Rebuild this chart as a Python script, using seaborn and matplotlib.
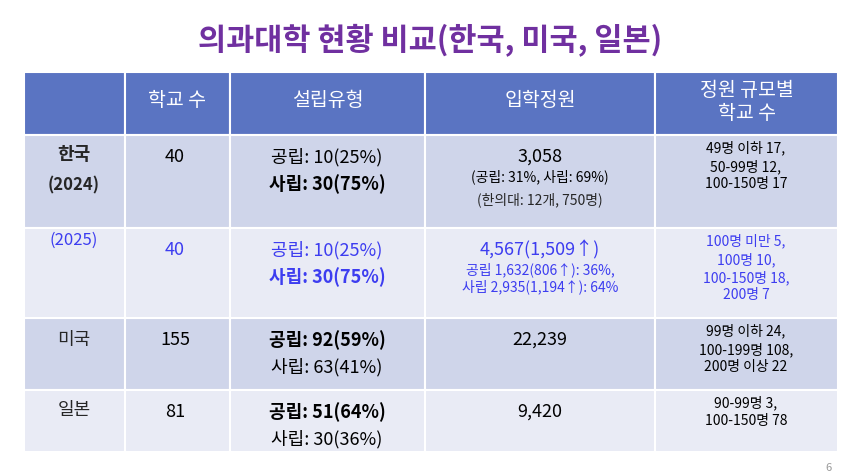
import matplotlib.pyplot as plt
import matplotlib.patches as mpatches
import seaborn as sns

sns.set_theme(style="white")
plt.rcParams["font.family"] = ["Noto Sans CJK KR", "Noto Sans CJK JP", "Noto Sans CJK SC",
                               "Noto Sans CJK TC", "DejaVu Sans"]

title = "의과대학 현황 비교(한국, 미국, 일본)"
headers = ["", "학교 수", "설립유형", "입학정원", "정원 규모별\n학교 수"]
schools = ["40", "40", "155", "81"]
found_public = ["공립: 10(25%)", "공립: 10(25%)", "공립: 92(59%)", "공립: 51(64%)"]
found_private = ["사립: 30(75%)", "사립: 30(75%)", "사립: 63(41%)", "사립: 30(36%)"]
public_bold = [False, False, True, True]
quota_main = ["3,058", "4,567(1,509↑)", "22,239", "9,420"]
quota_sub = ["(공립: 31%, 사립: 69%)", "공립 1,632(806↑): 36%,\n사립 2,935(1,194↑): 64%", "", ""]
size_groups = ["49명 이하 17,\n50-99명 12,\n100-150명 17",
               "100명 미만 5,\n100명 10,\n100-150명 18,\n200명 7",
               "99명 이하 24,\n100-199명 108,\n200명 이상 22",
               "90-99명 3,\n100-150명 78"]

cols = [24, 125, 230, 425, 655, 838]
rows = [72, 135, 228, 318, 390, 452]
row_colors = ["#CFD5EA", "#E9EBF5", "#CFD5EA", "#E9EBF5"]
header_color = "#5A74C2"
blue = "#3D3DF0"

fig = plt.figure(figsize=(8.6, 4.75), dpi=100)
ax = fig.add_axes([0, 0, 1, 1])
ax.set_xlim(0, 860)
ax.set_ylim(475, 0)
ax.axis("off")

ax.text(430, 40, title, ha="center", va="center", fontsize=22, fontweight="bold", color="#7030A0")

# header
for i in range(5):
    ax.add_patch(mpatches.Rectangle((cols[i], rows[0]), cols[i + 1] - cols[i], rows[1] - rows[0],
                                    facecolor=header_color, edgecolor="white", lw=1.5))
    ax.text((cols[i] + cols[i + 1]) / 2, 100 if i < 4 else 102, headers[i], ha="center", va="center",
            fontsize=14, color="white", linespacing=1.1)

# body
for r in range(4):
    y0, y1 = rows[r + 1], rows[r + 2]
    for i in range(5):
        ax.add_patch(mpatches.Rectangle((cols[i], y0), cols[i + 1] - cols[i], y1 - y0,
                                        facecolor=row_colors[r], edgecolor="white", lw=1.5))
    c = blue if r == 1 else "black"
    top = y0 + 22
    ax.text(175, top, schools[r], ha="center", va="center", fontsize=13, color=c)
    ax.text(327, top, found_public[r], ha="center", va="center", fontsize=13, color=c,
            fontweight="bold" if public_bold[r] else "normal")
    ax.text(327, top + 27, found_private[r], ha="center", va="center", fontsize=13, color=c,
            fontweight="normal" if public_bold[r] else "bold")
    ax.text(540, top, quota_main[r], ha="center", va="center", fontsize=13, color=c)
    if quota_sub[r]:
        ax.text(540, top + 12, quota_sub[r], ha="center", va="top", fontsize=10, color=c, linespacing=1.2)
    ax.text(746, y0 + 6, size_groups[r], ha="center", va="top", fontsize=10, color=c, linespacing=1.3)

ax.text(540, 200, "(한의대: 12개, 750명)", ha="center", va="center", fontsize=10, style="italic")
ax.text(74, 155, "한국", ha="center", va="center", fontsize=13, fontweight="bold")
ax.text(74, 185, "(2024)", ha="center", va="center", fontsize=12, fontweight="bold")
ax.text(74, 240, "(2025)", ha="center", va="center", fontsize=12, color=blue)
ax.text(74, 340, "미국", ha="center", va="center", fontsize=13)
ax.text(74, 410, "일본", ha="center", va="center", fontsize=13)
ax.text(828, 468, "6", ha="center", va="center", fontsize=8, color="#999999")

fig.savefig("out.png", dpi=100)
